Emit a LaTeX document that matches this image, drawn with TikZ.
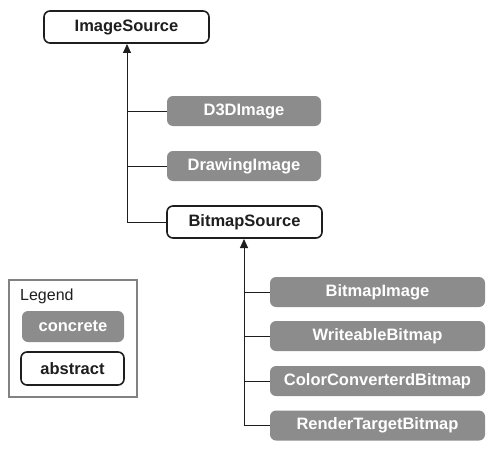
\documentclass[tikz,border=0pt]{standalone}
\usepackage{fontspec}
\setmainfont{Liberation Sans}
\usetikzlibrary{arrows.meta}
\definecolor{cgrey}{RGB}{140,140,140}
\definecolor{lgrey}{RGB}{130,130,130}
\definecolor{dk}{RGB}{30,30,30}
\begin{document}
\begin{tikzpicture}[x=1pt,y=-1pt,
  base/.style={rounded corners=6pt, align=center, font=\bfseries\fontsize{16.5}{18}\selectfont, inner sep=0pt},
  abstractbox/.style={base, draw=dk, line width=1.6pt, fill=white, text=dk},
  concretebox/.style={base, fill=cgrey, text=white},
  conn/.style={draw=dk, line width=0.9pt},
  arr/.style={conn, -{Triangle[length=9pt,width=8pt]}}]
\useasboundingbox (0,0) rectangle (495,452);
\node[abstractbox, minimum width=165pt, minimum height=32pt] (is) at (126.5,27) {ImageSource};
\node[concretebox, minimum width=154pt, minimum height=30pt] (d3d) at (244,111) {D3DImage};
\node[concretebox, minimum width=154pt, minimum height=30pt] (dwi) at (244,166) {DrawingImage};
\node[abstractbox, minimum width=155pt, minimum height=32pt] (bs) at (244.5,222) {BitmapSource};
\node[concretebox, minimum width=215pt, minimum height=30pt] (bi) at (377.5,292) {BitmapImage};
\node[concretebox, minimum width=215pt, minimum height=30pt] (wb) at (377.5,336) {WriteableBitmap};
\node[concretebox, minimum width=215pt, minimum height=30pt] (ccb) at (377.5,381) {ColorConverterdBitmap};
\node[concretebox, minimum width=215pt, minimum height=30pt] (rtb) at (377.5,425.5) {RenderTargetBitmap};
\coordinate (t1) at (127,44);
\coordinate (t2) at (244,239);
\draw[arr] (bs.west) -| (t1);
\draw[conn] (d3d.west) -- (d3d.west -| t1);
\draw[conn] (dwi.west) -- (dwi.west -| t1);
\draw[arr] (rtb.west) -| (t2);
\draw[conn] (bi.west) -- (bi.west -| t2);
\draw[conn] (wb.west) -- (wb.west -| t2);
\draw[conn] (ccb.west) -- (ccb.west -| t2);
% legend
\node[draw=lgrey, line width=1.8pt, minimum width=128pt, minimum height=117pt, inner sep=0pt] (lg) at (73,338.5) {};
\node[anchor=west, font=\fontsize{16}{18}\selectfont, text=dk, inner sep=0pt] (lgt) at (20,296) {Legend};
\node[concretebox, minimum width=102pt, minimum height=31pt] (lc) at (73,326.5) {concrete};
\node[abstractbox, minimum width=103pt, minimum height=33pt] (la) at (72.5,368.5) {abstract};
\end{tikzpicture}
\end{document}
